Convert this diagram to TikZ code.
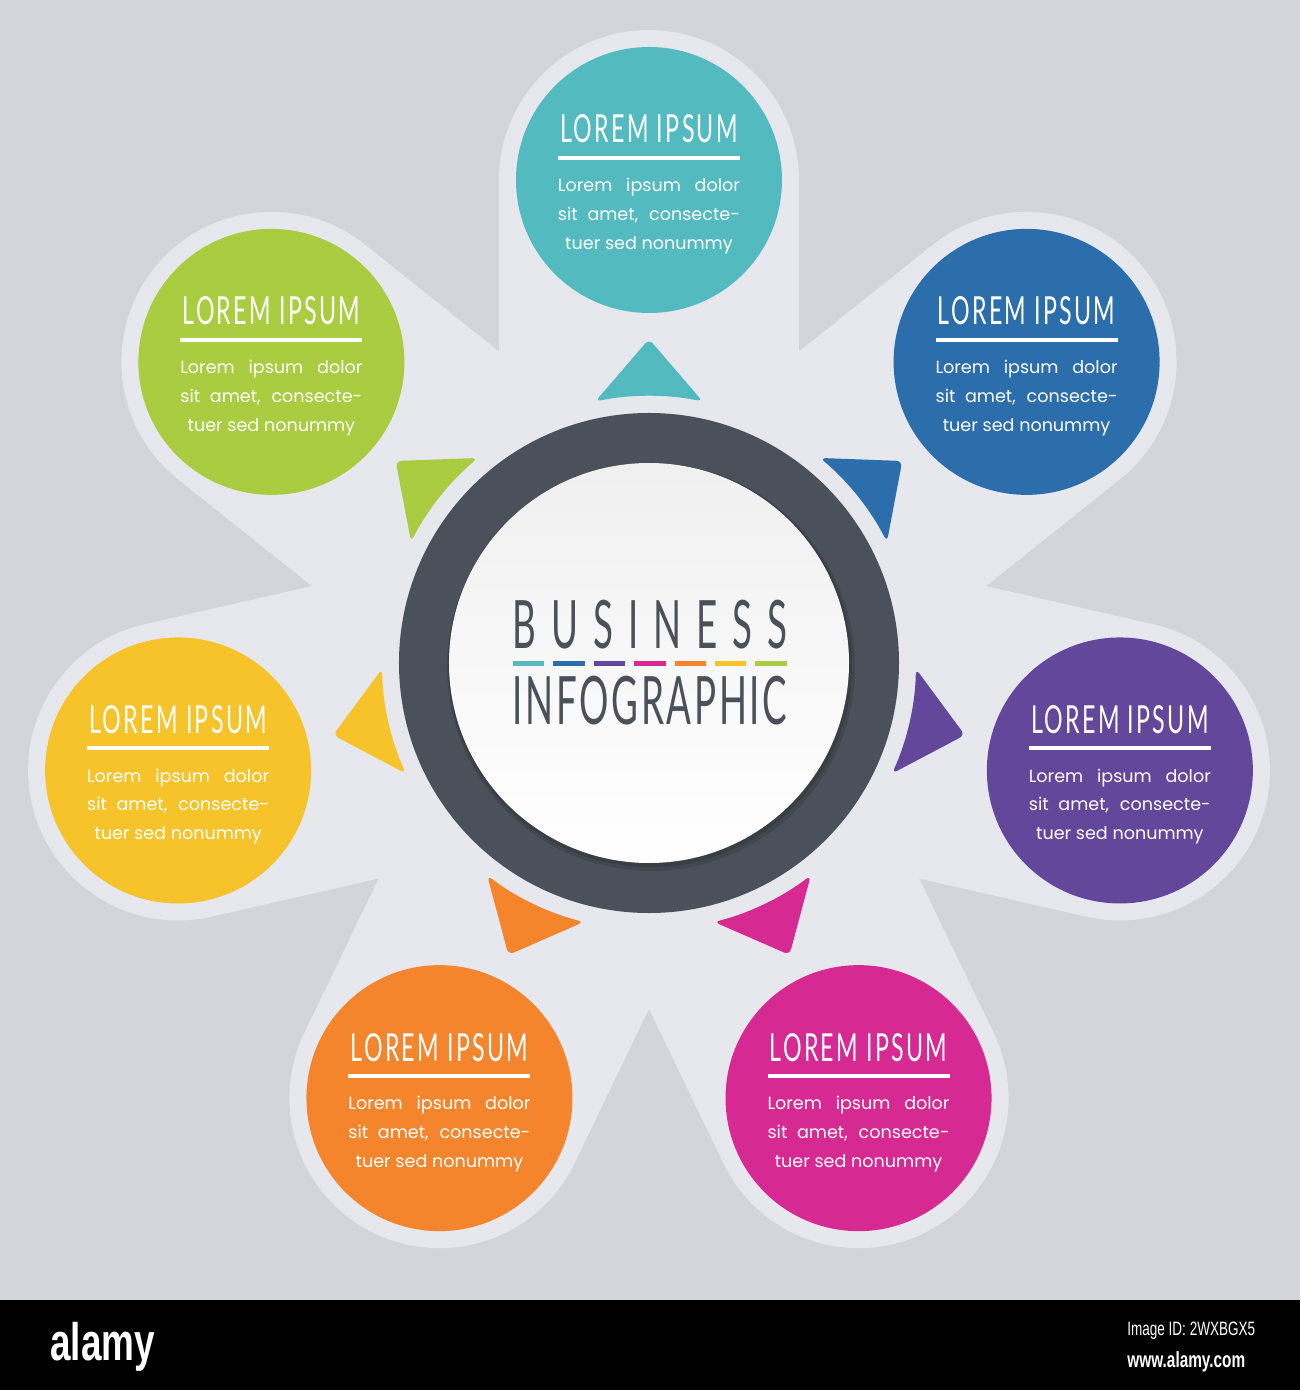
\documentclass[tikz,border=0pt]{standalone}
\usepackage{fontspec}
\setmainfont{Poppins}
\newfontfamily\headfont[FakeStretch=0.6,LetterSpace=6]{Lato}
\newfontfamily\titlefont[FakeStretch=0.55]{Lato}
\newfontfamily\logofont[FakeStretch=0.7]{Liberation Sans}

\definecolor{backgray}{RGB}{212,213,218}
\definecolor{lightpetal}{RGB}{230,232,238}
\definecolor{ringgray}{RGB}{74,81,91}
\definecolor{tealc}{RGB}{83,187,192}
\definecolor{bluec}{RGB}{44,110,171}
\definecolor{purplec}{RGB}{99,71,155}
\definecolor{magentac}{RGB}{214,41,145}
\definecolor{orangec}{RGB}{245,133,45}
\definecolor{yellowc}{RGB}{246,195,42}
\definecolor{greenc}{RGB}{169,204,65}

\tikzset{
  capsule/.style={draw=lightpetal, line width=60mm, line cap=round},
  petal/.style={circle, minimum size=53.2mm, inner sep=0pt},
  head/.style={anchor=base, text=white, inner sep=0pt, font=\headfont\fontsize{22}{22}\selectfont},
  headrule/.style={draw=white, line width=0.8mm},
  body/.style={text=white, align=center, inner sep=0pt, font=\fontsize{10}{16.4}\selectfont},
  marker/.style={rounded corners=1.2mm},
  bigword/.style={anchor=base, text=ringgray, inner sep=0pt, font=\titlefont\fontsize{38}{38}\selectfont},
}

\newcommand{\loremtext}{\makebox[36.4mm][s]{Lorem ipsum dolor}\\
  \makebox[36.4mm][s]{sit amet, consecte-}\\tuer sed nonummy}

\begin{document}
\begin{tikzpicture}[x=0.2mm, y=0.2mm]
  % page and footer bar
  \useasboundingbox (-649,-727) rectangle (651,663);
  \fill[backgray] (-649,-637) rectangle (651,663);
  \fill[black] (-649,-727) rectangle (651,-637);

  % light star behind the circles
  \draw[capsule] (0,0) -- (90:483);
  \draw[capsule] (0,0) -- (38.571:483);
  \draw[capsule] (0,0) -- (-12.857:483);
  \draw[capsule] (0,0) -- (-64.286:483);
  \draw[capsule] (0,0) -- (-115.714:483);
  \draw[capsule] (0,0) -- (-167.143:483);
  \draw[capsule] (0,0) -- (141.429:483);

  % coloured circles
  \node[petal, fill=tealc] (circ1) at (90:483) {};
  \node[petal, fill=bluec] (circ2) at (38.571:483) {};
  \node[petal, fill=purplec] (circ3) at (-12.857:483) {};
  \node[petal, fill=magentac] (circ4) at (-64.286:483) {};
  \node[petal, fill=orangec] (circ5) at (-115.714:483) {};
  \node[petal, fill=yellowc] (circ6) at (-167.143:483) {};
  \node[petal, fill=greenc] (circ7) at (141.429:483) {};

  % headings
  \node[head] (head1) at ([yshift=7.4mm]circ1.center) {LOREM IPSUM};
  \node[head] (head2) at ([yshift=7.4mm]circ2.center) {LOREM IPSUM};
  \node[head] (head3) at ([yshift=7.4mm]circ3.center) {LOREM IPSUM};
  \node[head] (head4) at ([yshift=7.4mm]circ4.center) {LOREM IPSUM};
  \node[head] (head5) at ([yshift=7.4mm]circ5.center) {LOREM IPSUM};
  \node[head] (head6) at ([yshift=7.4mm]circ6.center) {LOREM IPSUM};
  \node[head] (head7) at ([yshift=7.4mm]circ7.center) {LOREM IPSUM};

  % rules under the headings
  \draw[headrule] ([xshift=-18.2mm,yshift=4.4mm]circ1.center) -- ([xshift=18.2mm,yshift=4.4mm]circ1.center);
  \draw[headrule] ([xshift=-18.2mm,yshift=4.4mm]circ2.center) -- ([xshift=18.2mm,yshift=4.4mm]circ2.center);
  \draw[headrule] ([xshift=-18.2mm,yshift=4.4mm]circ3.center) -- ([xshift=18.2mm,yshift=4.4mm]circ3.center);
  \draw[headrule] ([xshift=-18.2mm,yshift=4.4mm]circ4.center) -- ([xshift=18.2mm,yshift=4.4mm]circ4.center);
  \draw[headrule] ([xshift=-18.2mm,yshift=4.4mm]circ5.center) -- ([xshift=18.2mm,yshift=4.4mm]circ5.center);
  \draw[headrule] ([xshift=-18.2mm,yshift=4.4mm]circ6.center) -- ([xshift=18.2mm,yshift=4.4mm]circ6.center);
  \draw[headrule] ([xshift=-18.2mm,yshift=4.4mm]circ7.center) -- ([xshift=18.2mm,yshift=4.4mm]circ7.center);

  % body texts
  \node[body] (body1) at ([yshift=-7.2mm]circ1.center) {\loremtext};
  \node[body] (body2) at ([yshift=-7.2mm]circ2.center) {\loremtext};
  \node[body] (body3) at ([yshift=-7.2mm]circ3.center) {\loremtext};
  \node[body] (body4) at ([yshift=-7.2mm]circ4.center) {\loremtext};
  \node[body] (body5) at ([yshift=-7.2mm]circ5.center) {\loremtext};
  \node[body] (body6) at ([yshift=-7.2mm]circ6.center) {\loremtext};
  \node[body] (body7) at ([yshift=-7.2mm]circ7.center) {\loremtext};

  % small triangles round the ring
  \fill[marker, fill=tealc] (90:324) -- (101.6:267) arc[start angle=101.6, end angle=78.4, radius=53.4mm] -- cycle;
  \fill[marker, fill=bluec] (38.571:324) -- (50.171:267) arc[start angle=50.171, end angle=26.971, radius=53.4mm] -- cycle;
  \fill[marker, fill=purplec] (-12.857:324) -- (-1.257:267) arc[start angle=-1.257, end angle=-24.457, radius=53.4mm] -- cycle;
  \fill[marker, fill=magentac] (-64.286:324) -- (-52.686:267) arc[start angle=-52.686, end angle=-75.886, radius=53.4mm] -- cycle;
  \fill[marker, fill=orangec] (-115.714:324) -- (-104.114:267) arc[start angle=-104.114, end angle=-127.314, radius=53.4mm] -- cycle;
  \fill[marker, fill=yellowc] (-167.143:324) -- (-155.543:267) arc[start angle=-155.543, end angle=-178.743, radius=53.4mm] -- cycle;
  \fill[marker, fill=greenc] (141.429:324) -- (153.029:267) arc[start angle=153.029, end angle=129.829, radius=53.4mm] -- cycle;

  % centre ring and disc
  \node[circle, fill=ringgray, minimum size=100mm, inner sep=0pt] (ring) at (0,0) {};
  \fill[black, opacity=0.12] (2,-4) circle[radius=40.8mm];
  \fill[black, opacity=0.12] (1,-2) circle[radius=40.4mm];
  \node[circle, minimum size=80mm, inner sep=0pt, top color=black!6, bottom color=white] (disc) at (0,0) {};

  % title
  \node[bigword] (business) at (1,15) {\makebox[54.8mm][s]{B\hfill U\hfill S\hfill I\hfill N\hfill E\hfill S\hfill S}};
  \node[bigword] (infographic) at (1,-61) {\makebox[54.8mm][s]{I\hfill N\hfill F\hfill O\hfill G\hfill R\hfill A\hfill P\hfill H\hfill I\hfill C}};
  \fill[tealc] (-136,-2.5) rectangle (-104.6,2.5);
  \fill[bluec] (-95.6,-2.5) rectangle (-64.2,2.5);
  \fill[purplec] (-55.2,-2.5) rectangle (-23.8,2.5);
  \fill[magentac] (-14.8,-2.5) rectangle (16.6,2.5);
  \fill[orangec] (25.6,-2.5) rectangle (57,2.5);
  \fill[yellowc] (66,-2.5) rectangle (97.4,2.5);
  \fill[greenc] (106.4,-2.5) rectangle (137.8,2.5);

  % footer texts
  \node[anchor=west, text=white, inner sep=0pt, font=\logofont\bfseries\fontsize{30}{30}\selectfont] (logo) at (-599,-684) {alamy};
  \node[anchor=west, text=white, inner sep=0pt, font=\logofont\fontsize{11}{11}\selectfont] (imageid) at (478,-668) {Image ID: 2WXBGX5};
  \node[anchor=west, text=white, inner sep=0pt, font=\logofont\bfseries\fontsize{12.5}{12.5}\selectfont] (website) at (478,-699) {www.alamy.com};
\end{tikzpicture}
\end{document}
